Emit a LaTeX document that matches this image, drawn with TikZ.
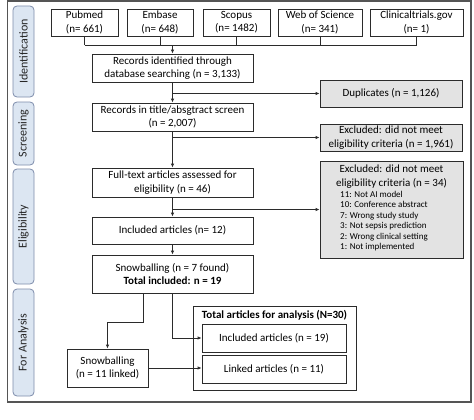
\documentclass[tikz,border=0pt]{standalone}
\usepackage{fontspec}
\setmainfont{Carlito}
\usetikzlibrary{arrows.meta}
\definecolor{boxgray}{HTML}{E3E3E3}
\definecolor{phasefill}{HTML}{DCE6F2}
\definecolor{phasedraw}{HTML}{7D8CAB}
\definecolor{framegray}{HTML}{555555}
\definecolor{linecol}{HTML}{2B2B2B}
\begin{document}
\begin{tikzpicture}[x=1pt,y=-1pt,
  box/.style={draw=linecol, line width=0.8pt, inner sep=0pt, align=center, font=\fontsize{11}{13.3}\selectfont, text=black},
  graybox/.style={box, fill=boxgray},
  phase/.style={draw=phasedraw, fill=phasefill, line width=0.8pt, rounded corners=4pt, rotate=90, inner sep=0pt, font=\fontsize{12}{14}\selectfont, text=black!85, minimum height=21pt},
  conn/.style={draw=linecol, line width=0.8pt},
  arr/.style={conn, -{Latex[length=4pt,width=3.5pt]}},
  plain/.style={inner sep=0pt, align=center, font=\fontsize{11}{13.3}\selectfont}
]
\useasboundingbox (0,0) rectangle (474,420);
\draw[framegray, line width=1.5pt] (7.5,1.2) rectangle (470.8,401.8);

% phase labels
\node[phase, minimum width=91pt] (ph1) at (23.5,51.5) {Identification};
\node[phase, minimum width=63pt] (ph2) at (23.5,133.5) {Screening};
\node[phase, minimum width=115pt] (ph3) at (23.5,226.5) {Eligibility};
\node[phase, minimum width=107pt] (ph4) at (23.5,342.5) {For Analysis};

% sources
\node[box, minimum width=67pt, minimum height=27pt] (pubmed) at (84.5,22.5) {Pubmed\\(n= 661)};
\node[box, minimum width=66pt, minimum height=27pt] (embase) at (160,22.5) {Embase\\(n= 648)};
\node[box, minimum width=67pt, minimum height=27pt] (scopus) at (236.5,22.5) {Scopus\\(n= 1482)};
\node[box, minimum width=84pt, minimum height=27pt] (wos) at (320,22.5) {Web of Science\\(n= 341)};
\node[box, minimum width=93pt, minimum height=27pt] (ctg) at (416.5,22.5) {Clinicaltrials.gov\\(n= 1)};

% main column
\node[box, minimum width=161pt, minimum height=28pt] (records) at (172.5,68) {Records identified through\\database searching (n = 3,133)};
\node[box, minimum width=161pt, minimum height=28pt] (screen) at (172.5,117) {Records in title/absgtract screen\\(n = 2,007)};
\node[box, minimum width=161pt, minimum height=29pt] (full) at (172.5,182.5) {Full-text articles assessed for\\eligibility (n = 46)};
\node[box, minimum width=161pt, minimum height=27pt] (inc12) at (172.5,230.5) {Included articles (n= 12)};
\node[box, minimum width=161pt, minimum height=38pt] (snow) at (172.5,274) {Snowballing (n = 7 found)\\\textbf{Total included: n = 19}};

% right column
\node[graybox, minimum width=142pt, minimum height=27pt] (dup) at (391,93.5) {Duplicates (n = 1,126)};
\node[graybox, minimum width=142pt, minimum height=27pt] (exc1) at (391,137.5) {Excluded: did not meet\\eligibility criteria (n = 1,961)};
\node[graybox, minimum width=143pt, minimum height=97pt] (exc2) at (391.5,209.5) {};
\node[plain] (exc2t) at (391.5,176.7) {Excluded: did not meet\\eligibility criteria (n = 34)};
\node[inner sep=0pt, align=left, anchor=north west, font=\fontsize{9}{10.4}\selectfont] (exc2l) at (340,191) {11: Not AI model\\10: Conference abstract\\7: Wrong study study\\3: Not sepsis prediction\\2: Wrong clinical setting\\1: Not implemented};

% analysis
\node[box, minimum width=81pt, minimum height=38pt] (snow2) at (107.5,368) {Snowballing\\(n = 11 linked)};
\node[box, minimum width=163pt, minimum height=84pt] (total) at (274.5,348) {};
\node[plain, font=\fontsize{11}{13.3}\selectfont\bfseries] (totalt) at (274.5,315) {Total articles for analysis (N=30)};
\node[box, minimum width=144pt, minimum height=28pt] (inc19) at (274,338) {Included articles (n = 19)};
\node[box, minimum width=144pt, minimum height=28pt] (linked) at (274,369) {Linked articles (n = 11)};

% bracket
\coordinate (bl) at (84.5,45.5);
\coordinate (br) at (416.5,45.5);
\draw[conn] (pubmed.south) -- (pubmed.south |- bl);
\draw[conn] (embase.south) -- (embase.south |- bl);
\draw[conn] (scopus.south) -- (scopus.south |- bl);
\draw[conn] (wos.south) -- (wos.south |- bl);
\draw[conn] (ctg.south) -- (ctg.south |- bl);
\draw[conn] (bl) -- (br);
\draw[arr] (records.north |- bl) -- (records.north);

% main flow
\draw[arr] (records.south) -- (screen.north);
\draw[arr] (records.south |- dup.west) -- (dup.west);
\draw[arr] (screen.south) -- (full.north);
\draw[arr] (screen.south |- exc1.west) -- (exc1.west);
\draw[arr] (full.south) -- (inc12.north);
\draw[arr] (full.south |- exc2.west) -- (exc2.west);
\draw[arr] (inc12.south) -- (snow.north);

% analysis flow
\coordinate (s1) at (143,293);
\coordinate (k1) at (143,322);
\draw[arr] (s1) -- (k1) -| (snow2.north);
\draw[arr] (snow.south) |- (inc19.west);
\draw[arr] (snow2.east) -- (snow2.east -| linked.west);
\end{tikzpicture}
\end{document}
